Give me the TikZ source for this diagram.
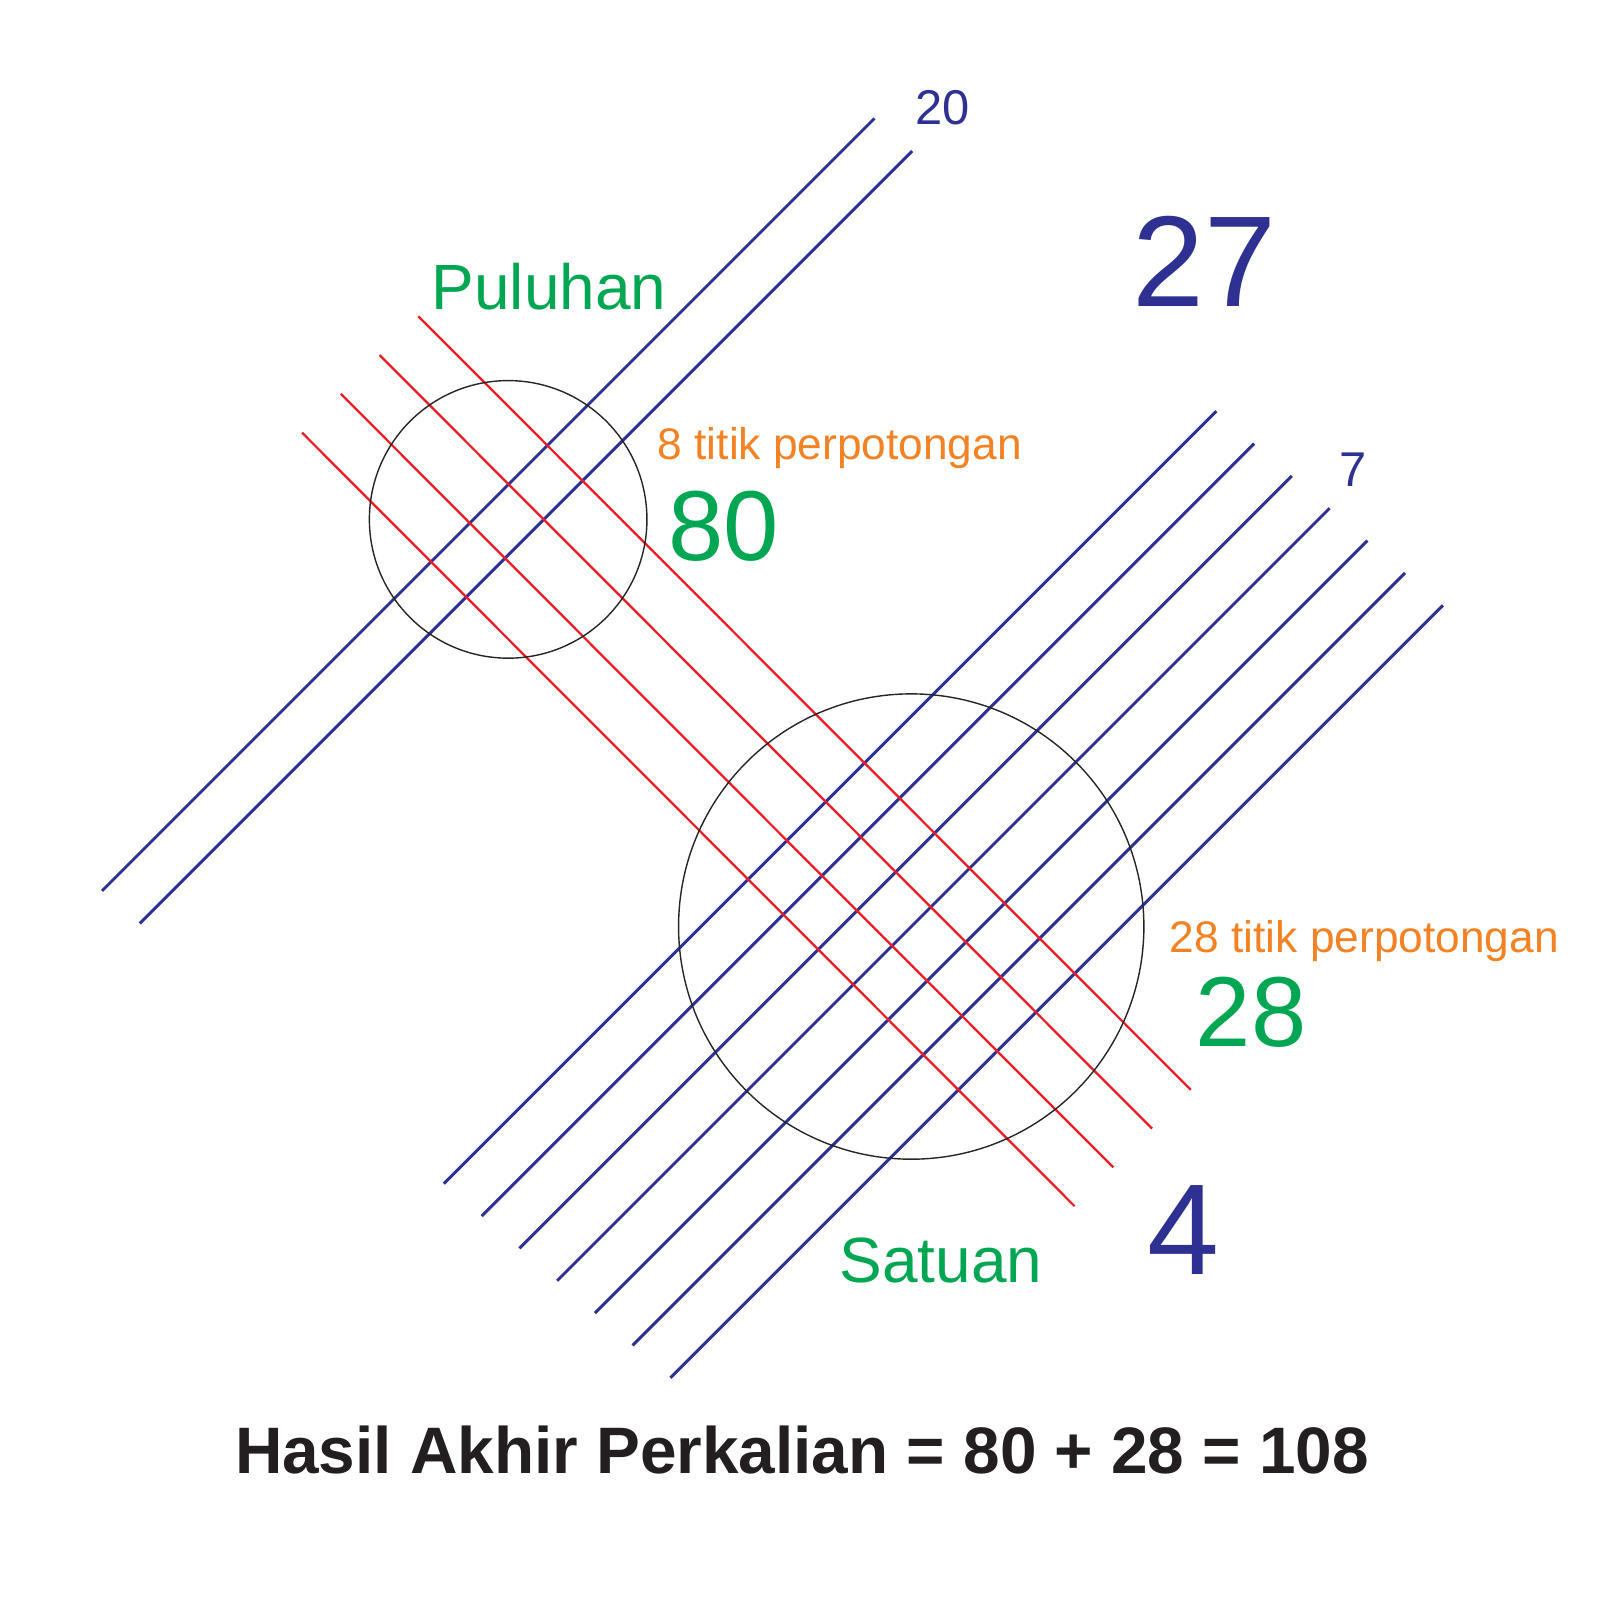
\documentclass[tikz,border=0pt]{standalone}
\usepackage{fontspec}
\setmainfont{Liberation Sans}
\definecolor{biruTua}{RGB}{46,49,146}
\definecolor{merah}{RGB}{237,28,36}
\definecolor{hijau}{RGB}{0,166,81}
\definecolor{oranye}{RGB}{242,130,36}
\definecolor{hitam}{RGB}{35,31,32}
\begin{document}
\begin{tikzpicture}[
        % satuan: 1 = satu piksel gambar acuan
        x={(0.010204cm,0cm)},
        y={(0cm,-0.010204cm)},
        blueLine/.style={line width=0.85pt, biruTua},
        redLine/.style={line width=0.65pt, merah},
        ring/.style={line width=0.4pt, black!85},
        % gaya teks
        numSmall/.style={anchor=base, inner sep=0pt, text=biruTua, font=\fontsize{13.9}{16}\selectfont},
        numBig/.style={anchor=base, inner sep=0pt, text=biruTua, font=\fontsize{36.8}{40}\selectfont},
        wordGreen/.style={anchor=base, inner sep=0pt, text=hijau, font=\fontsize{18.2}{21}\selectfont},
        numGreen/.style={anchor=base, inner sep=0pt, text=hijau, font=\fontsize{28.3}{32}\selectfont},
        noteOrange/.style={anchor=base, inner sep=0pt, text=oranye, font=\fontsize{12.6}{15}\selectfont},
        resultText/.style={anchor=base, inner sep=0pt, text=hitam, font=\bfseries\fontsize{18.7}{22}\selectfont}
    ]

        % --- parameter ---
        \def\len{757}       % panjang garis (per sumbu)
        \useasboundingbox (0,0) rectangle (1568,1568);

        % --- 1. garis biru: puluhan dari 27 (2 garis) ---
        \foreach \i in {0,1} {
            \draw[blueLine] ({100+37*\i},{873+32*\i}) -- ++(\len,-\len);
        }

        % --- 2. garis biru: satuan dari 27 (7 garis) ---
        \foreach \i in {0,...,6} {
            \draw[blueLine] ({435+37*\i},{1160+31.7*\i}) -- ++(\len,-\len);
        }

        % --- 3. garis merah: 4 garis ---
        \foreach \i in {0,...,3} {
            \draw[redLine] ({410-38*\i},{310+38*\i}) -- ++(\len,\len+1);
        }

        % --- 4. lingkaran titik potong ---
        \draw[ring] (498,509) circle[radius=136];
        \draw[ring] (893,908) circle[radius=228];

        % --- 5. angka dan keterangan ---
        \node[numSmall] (dua) at (924,122.5) {20};
        \node[numSmall] (tujuh) at (1326,477) {7};
        \node[numBig] (angka) at (1180,300) {27};
        \node[numBig] (empat) at (1160,1249) {4};

        \node[wordGreen] (puluhan) at (538,303) {Puluhan};
        \node[wordGreen] (satuan) at (922,1257) {Satuan};

        \node[noteOrange] (potongA) at (823,450) {8 titik perpotongan};
        \node[numGreen] (hasilA) at (709,549) {80};
        \node[noteOrange] (potongB) at (1337,933) {28 titik perpotongan};
        \node[numGreen] (hasilB) at (1226,1026) {28};

        % --- 6. hasil akhir ---
        \node[resultText] (hasil) at (786,1444.5) {Hasil Akhir Perkalian = 80 + 28 = 108};

    \end{tikzpicture}
\end{document}
